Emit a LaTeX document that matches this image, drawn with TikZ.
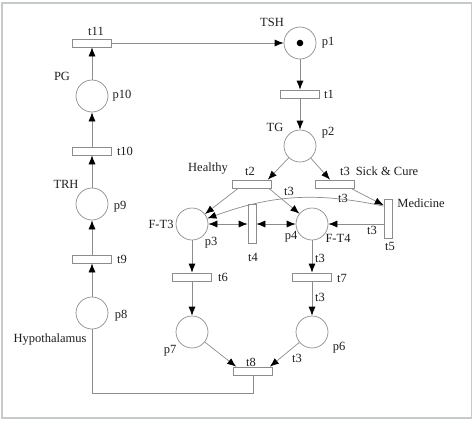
\documentclass[tikz,border=0pt]{standalone}
\usepackage{fontspec}
\setmainfont{Liberation Serif}
\usetikzlibrary{arrows.meta}
\definecolor{Linea}{HTML}{8C8C8C}
\definecolor{Marco}{HTML}{C6CACA}
\definecolor{Texto}{HTML}{1E1E1E}

\begin{document}
\begin{tikzpicture}[
  x=1pt,y=-1pt,
  font=\fontsize{12.5}{14}\selectfont,
  text=Texto,
  place/.style={circle,draw=Linea,line width=0.7pt,minimum size=32pt,inner sep=0pt},
  trans/.style={rectangle,draw=Linea,line width=0.7pt,minimum width=39pt,minimum height=8pt,inner sep=0pt},
  vtrans/.style={trans,minimum width=8pt,minimum height=39pt},
  arr/.style={-{Latex[length=9pt,width=7pt,color=black]},draw=Linea,line width=0.7pt},
  dbl/.style={{Latex[length=9pt,width=7pt,color=black]}-{Latex[length=9pt,width=7pt,color=black]},draw=Linea,line width=0.7pt},
  lbl/.style={inner sep=0pt}
]
  \useasboundingbox (0,0) rectangle (474,421);
  \draw[Marco,line width=1.6pt] (2,3) rectangle (471.5,418);

  % Left chain: hypothalamus to TSH.
  \node[place] (p8) at (92,313) {};
  \node[trans] (t9) at (92,259) {};
  \node[place] (p9) at (92,204) {};
  \node[trans] (t10) at (92,151) {};
  \node[place] (p10) at (92,96) {};
  \node[trans] (t11) at (92,43) {};

  % Right part.
  \node[place] (p1) at (300,43) {};
  \fill (p1) circle (3.3pt);
  \node[trans] (t1) at (300,94) {};
  \node[place] (p2) at (300,146) {};
  \node[trans] (t2) at (252,184) {};
  \node[trans] (t3) at (335,184) {};
  \node[place] (p3) at (192,224) {};
  \node[place] (p4) at (312,224) {};
  \node[vtrans] (t4) at (252,224) {};
  \node[vtrans] (t5) at (388,219) {};
  \node[trans] (t6) at (192,277) {};
  \node[trans] (t7) at (312,277) {};
  \node[place] (p7) at (192,332) {};
  \node[place] (p6) at (312,332) {};
  \node[trans] (t8) at (253,371) {};
  \coordinate (back) at (92,393);

  % Labels.
  \node[lbl] (lt11) at (96,31) {t11};
  \node[lbl] (lPG) at (62,76) {PG};
  \node[lbl] (lp10) at (122,96) {p10};
  \node[lbl] (lt10) at (125,151) {t10};
  \node[lbl] (lTRH) at (66,184) {TRH};
  \node[lbl] (lp9) at (120,207) {p9};
  \node[lbl] (lt9) at (122,259) {t9};
  \node[lbl] (lp8) at (121,316) {p8};
  \node[lbl] (lhyp) at (50,340) {Hypothalamus};
  \node[lbl] (lTSH) at (272,22) {TSH};
  \node[lbl] (lp1) at (328,43) {p1};
  \node[lbl] (lt1) at (329,94) {t1};
  \node[lbl] (lTG) at (275,127) {TG};
  \node[lbl] (lp2) at (328,133) {p2};
  \node[lbl] (lhealthy) at (208,169) {Healthy};
  \node[lbl] (lt2) at (250,171) {t2};
  \node[lbl] (lt3) at (345,171) {t3};
  \node[lbl] (lsick) at (387,171) {Sick \& Cure};
  \node[lbl] (wa) at (289,191) {t3};
  \node[lbl] (wb) at (343,198) {t3};
  \node[lbl] (lmed) at (421,203) {Medicine};
  \node[lbl] (lFT3) at (161,224) {F-T3};
  \node[lbl] (lp3) at (211,243) {p3};
  \node[lbl] (lt4) at (253,257) {t4};
  \node[lbl] (lp4) at (291,237) {p4};
  \node[lbl] (lFT4) at (338,238) {F-T4};
  \node[lbl] (wc) at (372,230) {t3};
  \node[lbl] (lt5) at (390,246) {t5};
  \node[lbl] (lt6) at (223,277) {t6};
  \node[lbl] (wd) at (320,258) {t3};
  \node[lbl] (lt7) at (342,278) {t7};
  \node[lbl] (we) at (320,297) {t3};
  \node[lbl] (lp7) at (170,351) {p7};
  \node[lbl] (lp6) at (339,348) {p6};
  \node[lbl] (wf) at (297,358) {t3};
  \node[lbl] (lt8) at (251,362) {t8};

  % Arcs.
  \draw[arr] (p8) -- (t9);
  \draw[arr] (t9) -- (p9);
  \draw[arr] (p9) -- (t10);
  \draw[arr] (t10) -- (p10);
  \draw[arr] (p10) -- (t11);
  \draw[arr] (t11.east) -- (p1);
  \draw[arr] (p1) -- (t1);
  \draw[arr] (t1) -- (p2);
  \draw[arr] (p2) -- ([xshift=-4pt]t2.north east);
  \draw[arr] (p2) -- ([xshift=-5pt]t3.north);
  \draw[arr] ([xshift=6pt]t2.south west) -- (p3);
  \draw[arr] ([xshift=-3pt]t2.south east) -- (p4);
  \draw[arr] ([xshift=-4pt]t3.south east) -- ([yshift=-6pt]t5.north west);
  \draw[arr] ([yshift=-7pt]t5.north west) to[bend right=16] (p3.20);
  \draw[arr] (t5.west |- p4) -- (p4);
  \draw[dbl] (t4.west) -- (p3);
  \draw[dbl] (t4.east) -- (p4);
  \draw[arr] (p3) -- (t6);
  \draw[arr] (t6) -- (p7);
  \draw[arr] (p4) -- (t7);
  \draw[arr] (t7) -- (p6);
  \draw[arr] (p7) -- ([xshift=3pt]t8.north west);
  \draw[arr] (p6) -- ([xshift=-3pt]t8.north east);
  \draw[Linea,line width=0.7pt] (t8.south) |- (back) -- (p8.south);
\end{tikzpicture}
\end{document}
